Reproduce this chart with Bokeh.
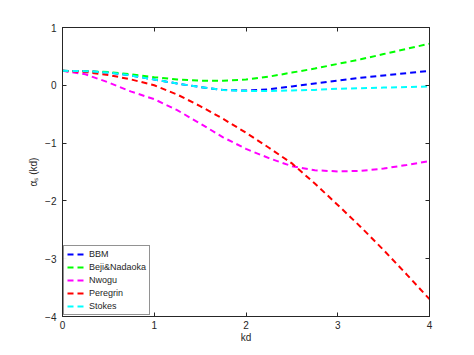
from bokeh.plotting import figure
from bokeh.models import LinearAxis, Range1d, FixedTicker, Legend, LegendItem
from bokeh.embed import file_html
from bokeh.resources import INLINE

kd = [0.0, 0.25, 0.5, 0.75, 1.0, 1.25, 1.5, 1.75, 2.0, 2.25, 2.5, 2.75, 3.0, 3.25, 3.5, 3.75, 4.0]
bbm = [0.25, 0.245, 0.22, 0.17, 0.10, 0.03, -0.03, -0.08, -0.09, -0.07, -0.02, 0.03, 0.08, 0.13, 0.17, 0.21, 0.25]
beji = [0.25, 0.245, 0.23, 0.19, 0.14, 0.10, 0.08, 0.08, 0.10, 0.15, 0.22, 0.29, 0.37, 0.45, 0.54, 0.63, 0.72]
nwogu = [0.25, 0.19, 0.05, -0.11, -0.24, -0.43, -0.66, -0.90, -1.10, -1.26, -1.40, -1.47, -1.49, -1.48, -1.44, -1.38, -1.31]
peregrin = [0.25, 0.23, 0.18, 0.10, 0.0, -0.16, -0.36, -0.58, -0.82, -1.08, -1.35, -1.70, -2.07, -2.45, -2.85, -3.27, -3.70]
stokes = [0.25, 0.245, 0.22, 0.17, 0.10, 0.03, -0.03, -0.08, -0.10, -0.10, -0.09, -0.08, -0.06, -0.05, -0.04, -0.03, -0.02]

names = ["BBM", "Beji&Nadaoka", "Nwogu", "Peregrin", "Stokes"]
series = [bbm, beji, nwogu, peregrin, stokes]
colors = ["#0000ff", "#00ff00", "#ff00ff", "#ff0000", "#00ffff"]
x_ticks = [0, 1, 2, 3, 4]
y_ticks = [-4, -3, -2, -1, 0, 1]

FONT = "Liberation Sans"
AXC = "#262626"

p = figure(width=474, height=355, output_backend="svg", toolbar_location=None,
           x_range=Range1d(0, 4), y_range=Range1d(-4, 1),
           min_border_left=62, min_border_right=45, min_border_top=27, min_border_bottom=39)
p.background_fill_color = "white"
p.border_fill_color = "white"
p.xgrid.visible = False
p.ygrid.visible = False
p.outline_line_color = AXC
p.outline_line_width = 1

items = []
for name, ys, c in zip(names, series, colors):
    r = p.line(kd, ys, line_color=c, line_width=2, line_dash="6 4")
    items.append(LegendItem(label=name, renderers=[r]))

def style(ax, labels=True):
    ax.major_tick_in = 4
    ax.major_tick_out = 0
    ax.minor_tick_in = 0
    ax.minor_tick_out = 0
    ax.axis_line_color = AXC
    ax.major_tick_line_color = AXC
    ax.major_label_text_font = FONT
    ax.major_label_text_font_size = "10px"
    ax.major_label_text_color = AXC
    ax.axis_label_text_font = FONT
    ax.axis_label_text_font_size = "10px"
    ax.axis_label_text_font_style = "normal"
    ax.axis_label_text_color = AXC
    if not labels:
        ax.major_label_text_alpha = 0
        ax.major_label_text_font_size = "1px"

p.xaxis.ticker = FixedTicker(ticks=x_ticks)
p.yaxis.ticker = FixedTicker(ticks=y_ticks)
p.xaxis.axis_label = "kd"
p.yaxis.axis_label = "\u03b1\u209b (kd)"
style(p.xaxis[0])
style(p.yaxis[0])
p.xaxis.major_label_standoff = 4
p.xaxis.axis_label_standoff = 0
p.yaxis.major_label_standoff = 6
p.yaxis.axis_label_standoff = 3

top = LinearAxis(ticker=FixedTicker(ticks=x_ticks))
right = LinearAxis(ticker=FixedTicker(ticks=y_ticks))
style(top, labels=False)
style(right, labels=False)
p.add_layout(top, "above")
p.add_layout(right, "right")

legend = Legend(items=items, location="bottom_left")
legend.label_text_font = FONT
legend.label_text_font_size = "9px"
legend.label_text_color = AXC
legend.glyph_width = 20
legend.glyph_height = 10
legend.label_height = 10
legend.spacing = 3
legend.padding = 3
legend.margin = 1
legend.border_line_color = AXC
legend.border_line_width = 1
legend.label_standoff = 2
p.add_layout(legend)

open("out.html", "w").write(file_html(p, INLINE))
